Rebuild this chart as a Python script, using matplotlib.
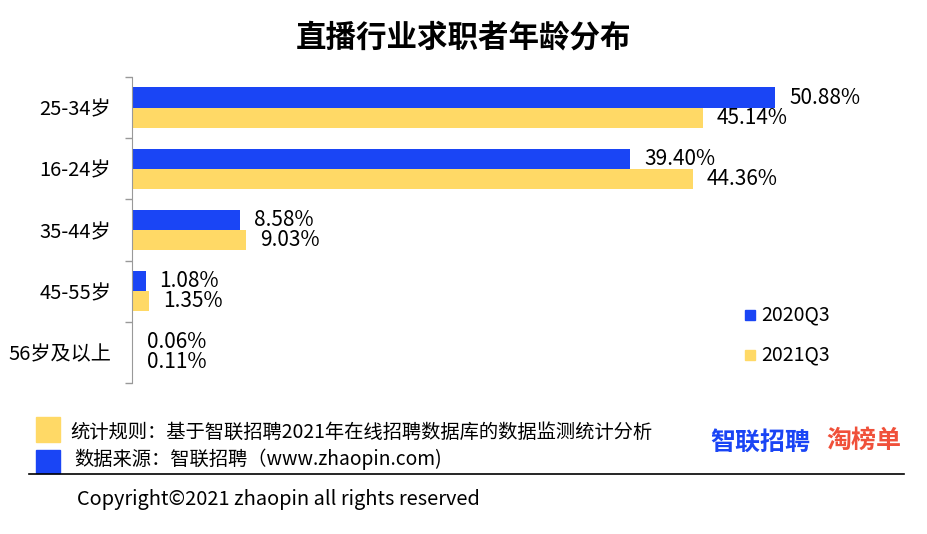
import numpy as np
import matplotlib
matplotlib.use("Agg")
import matplotlib.pyplot as plt
from matplotlib.patches import Rectangle
from matplotlib.lines import Line2D

plt.rcParams['font.family'] = ['Noto Sans CJK SC', 'DejaVu Sans']

# data
categories = ["25-34岁", "16-24岁", "35-44岁", "45-55岁", "56岁及以上"]
q3_2020 = [50.88, 39.40, 8.58, 1.08, 0.06]
q3_2021 = [45.14, 44.36, 9.03, 1.35, 0.11]
series_names = ["2020Q3", "2021Q3"]

BLUE = "#1A45F5"
YELLOW = "#FFD966"

W, H = 928, 534
fig = plt.figure(figsize=(W / 100, H / 100), dpi=100)

# axes placed in pixel terms
left, right, top, bottom = 132, 890, 77, 383
ax = fig.add_axes([left / W, 1 - bottom / H, (right - left) / W, (bottom - top) / H])

y = np.arange(len(categories))
h = 0.33
ax.barh(y - h / 2, q3_2020, height=h, color=BLUE)
ax.barh(y + h / 2, q3_2021, height=h, color=YELLOW)

for yi, v in zip(y, q3_2020):
    ax.annotate("%.2f%%" % v, (v, yi - h / 2), xytext=(10, 0), textcoords="offset points",
                ha="left", va="center", fontsize=15)
for yi, v in zip(y, q3_2021):
    ax.annotate("%.2f%%" % v, (v, yi + h / 2), xytext=(10, 0), textcoords="offset points",
                ha="left", va="center", fontsize=15)

ax.set_xlim(0, (right - left) / 12.64)
ax.set_ylim(len(categories) - 0.5, -0.5)
ax.set_yticks(y)
ax.set_yticklabels(categories, fontsize=14.5)
ax.tick_params(axis="y", which="major", length=0, pad=15)
ax.set_yticks(np.arange(-0.5, len(categories)), minor=True)
ax.tick_params(axis="y", which="minor", length=5, color="#999999", width=1)
ax.set_xticks([])
for s in ["top", "right", "bottom"]:
    ax.spines[s].set_visible(False)
ax.spines["left"].set_color("#999999")

# title
fig.text(464 / W, 1 - 38 / H, "直播行业求职者年龄分布", ha="center", va="center",
         fontsize=22, fontweight="bold")

# legend
for i, (name, c) in enumerate(zip(series_names, [BLUE, YELLOW])):
    yy = 315 + i * 40
    fig.patches.append(Rectangle((745 / W, 1 - (yy + 5) / H), 10 / W, 10 / H,
                                 transform=fig.transFigure, color=c))
    fig.text(761 / W, 1 - yy / H, name, ha="left", va="center", fontsize=14)

# footer notes
fig.patches.append(Rectangle((36 / W, 1 - 442 / H), 24 / W, 25 / H,
                             transform=fig.transFigure, color=YELLOW))
fig.patches.append(Rectangle((36 / W, 1 - 473 / H), 24 / W, 23 / H,
                             transform=fig.transFigure, color=BLUE))
fig.text(70 / W, 1 - 432 / H, "统计规则：基于智联招聘2021年在线招聘数据库的数据监测统计分析",
         ha="left", va="center", fontsize=13.9)
fig.text(74 / W, 1 - 459 / H, "数据来源：智联招聘（www.zhaopin.com)",
         ha="left", va="center", fontsize=13.9)
fig.lines.append(Line2D([29 / W, 904 / W], [1 - 474 / H, 1 - 474 / H],
                        transform=fig.transFigure, color="black", lw=1.2))
fig.text(77 / W, 1 - 500 / H, "Copyright©2021 zhaopin all rights reserved",
         ha="left", va="center", fontsize=14.4)

# logos
fig.text(710 / W, 1 - 443 / H, "智联招聘", ha="left", va="center", fontsize=18,
         fontweight="bold", color="#1A45F5")
fig.text(826 / W, 1 - 441 / H, "淘榜单", ha="left", va="center", fontsize=18,
         fontweight="bold", color="#F0503A")

fig.savefig("out.png", dpi=100)
